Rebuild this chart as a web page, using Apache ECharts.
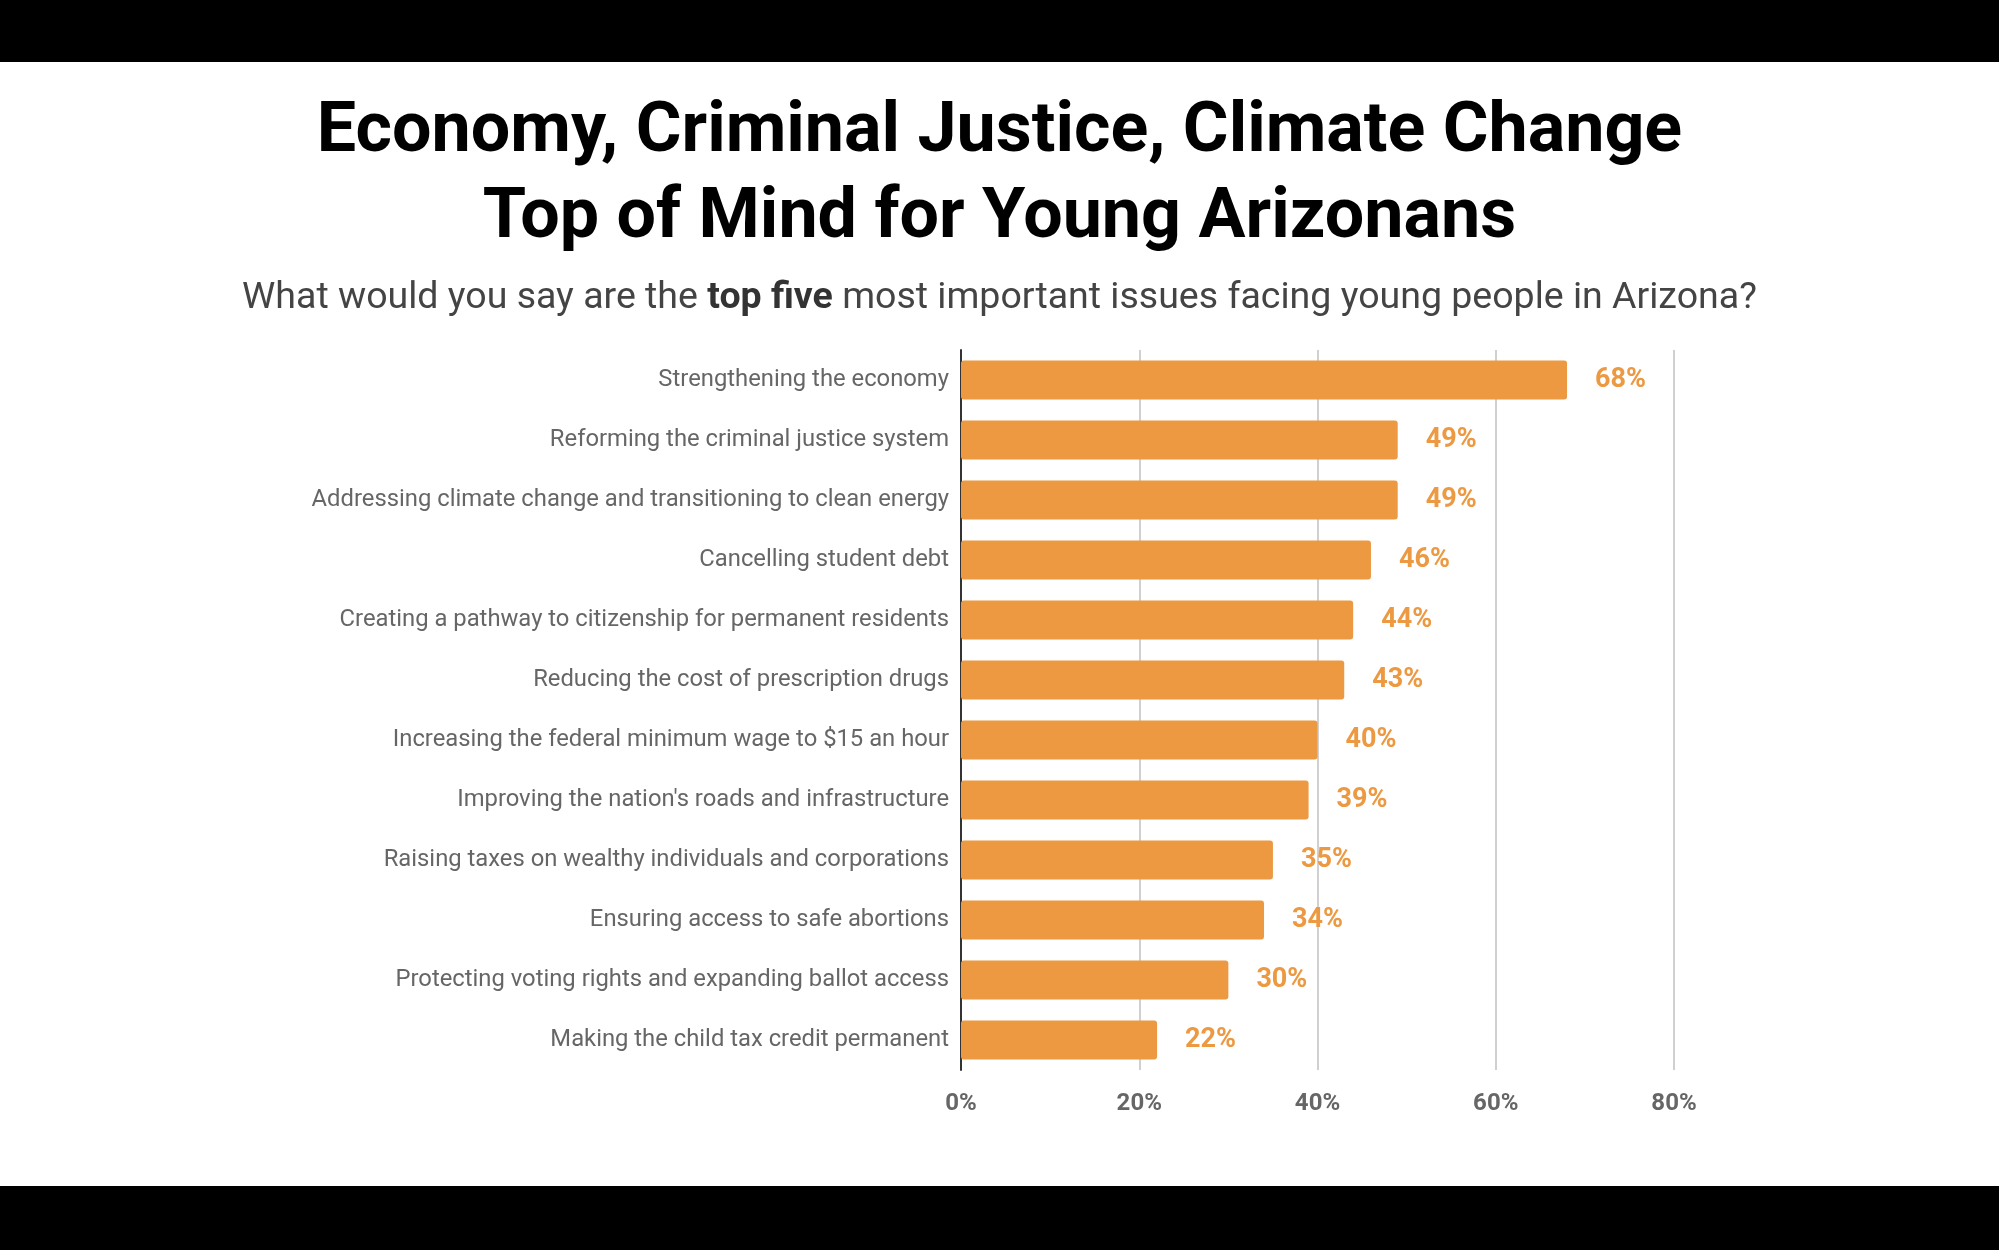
<!DOCTYPE html>
<html><head><meta charset="utf-8">
<script src="https://cdn.jsdelivr.net/npm/echarts@6/dist/echarts.min.js"></script>
<style>html,body{margin:0;padding:0;background:#fff}#c{width:1999px;height:1250px}</style>
</head><body><div id="c"></div>
<script>
const categories = [
  "Strengthening the economy",
  "Reforming the criminal justice system",
  "Addressing climate change and transitioning to clean energy",
  "Cancelling student debt",
  "Creating a pathway to citizenship for permanent residents",
  "Reducing the cost of prescription drugs",
  "Increasing the federal minimum wage to $15 an hour",
  "Improving the nation's roads and infrastructure",
  "Raising taxes on wealthy individuals and corporations",
  "Ensuring access to safe abortions",
  "Protecting voting rights and expanding ballot access",
  "Making the child tax credit permanent"
];
const values = [68, 49, 49, 46, 44, 43, 40, 39, 35, 34, 30, 22];
const xTicks = [0, 20, 40, 60, 80];
const titleText = "Economy, Criminal Justice, Climate Change\nTop of Mind for Young Arizonans";

const chart = echarts.init(document.getElementById('c'));
chart.setOption({
  backgroundColor: '#fff',
  animation: false,
  graphic: [
    {type:'rect', shape:{x:0,y:0,width:1999,height:62}, style:{fill:'#000'}},
    {type:'rect', shape:{x:0,y:1186,width:1999,height:64}, style:{fill:'#000'}}
  ],
  title: [
    {text: titleText, left: 'center', top: 85,
     textStyle:{fontFamily:'Roboto', fontWeight:'bold', fontSize:70, lineHeight:86, color:'#000'}},
    {text: 'What would you say are the {b|top five} most important issues facing young people in Arizona?',
     left:'center', top: 275,
     textStyle:{fontFamily:'Roboto', fontSize:37.5, fontWeight:'normal', color:'#444',
       rich:{b:{fontFamily:'Roboto', fontSize:37.5, fontWeight:'bold', color:'#333'}}}}
  ],
  grid: {left: 961, top: 350, width: 713, height: 720, containLabel: false},
  xAxis: {
    type:'value', min: xTicks[0], max: xTicks[xTicks.length-1], interval: 20,
    axisLine:{show:false}, axisTick:{show:false},
    splitLine:{show:true, lineStyle:{color:'#d0d0d0', width:2}},
    axisLabel:{formatter:'{value}%', fontFamily:'Roboto', fontWeight:'bold', fontSize:24, color:'#666', margin:22}
  },
  yAxis: {
    type:'category', data: categories, inverse:true,
    axisLine:{show:true, lineStyle:{color:'#333', width:2}},
    axisTick:{show:false},
    axisLabel:{fontFamily:'Roboto', fontSize:23.8, color:'#666', margin:12, padding:[4,0,0,0]}
  },
  series: [{
    type:'bar', data: values, barWidth:'65%',
    itemStyle:{color:'#EC9941', borderRadius:3},
    label:{show:true, position:'right', distance:28, formatter:'{c}%',
      fontFamily:'Roboto', fontWeight:'bold', fontSize:27, color:'#EC9941'}
  }]
});
</script></body></html>
